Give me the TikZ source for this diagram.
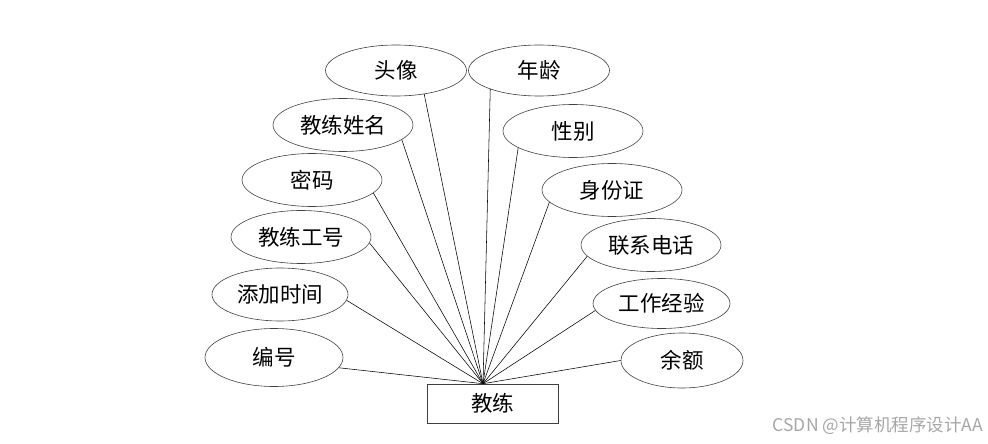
\documentclass[tikz,border=0pt]{standalone}
\usepackage{fontspec}
\newfontfamily\cjk{Noto Sans CJK SC}
\usetikzlibrary{shapes.geometric}
\begin{document}
\begin{tikzpicture}[x=1pt,y=-1pt,
  attr/.style={ellipse, draw=black!75, line width=0.6pt, minimum width=140pt, minimum height=53pt, inner sep=0pt, font=\cjk\fontsize{21.5}{25}\selectfont},
  ent/.style={rectangle, draw=black!75, line width=0.6pt, minimum width=131pt, minimum height=39pt, inner sep=0pt, font=\cjk\fontsize{21.5}{25}\selectfont},
  link/.style={draw=black, line width=0.55pt},
  wmark/.style={text=black!35, font=\cjk\fontsize{17.5}{20}\selectfont, anchor=east, inner sep=0pt}]
\useasboundingbox (0,0) rectangle (988,444);
\node[ent] (ent) at (492.5,403.5) {教练};
\coordinate (hub) at ([xshift=-9.5pt]ent.north);
\node[attr, minimum width=141pt, minimum height=51pt] (touxiang) at (396,70.5) {头像};
\node[attr, minimum width=141pt, minimum height=51pt] (nianling) at (539,70.5) {年龄};
\node[attr] (xingming) at (343,125) {教练姓名};
\node[attr] (xingbie) at (573,131) {性别};
\node[attr] (mima) at (312,180) {密码};
\node[attr] (sfz) at (612,190) {身份证};
\node[attr] (gonghao) at (301,237) {教练工号};
\node[attr] (dianhua) at (651,245) {联系电话};
\node[attr, minimum width=136pt] (shijian) at (280,294.5) {添加时间};
\node[attr, minimum width=137pt, minimum height=50pt] (jingyan) at (661.5,303.5) {工作经验};
\node[attr, minimum width=138pt, minimum height=58pt] (bianhao) at (274,357.5) {编号};
\node[attr, minimum width=122pt, minimum height=55pt] (yue) at (682,360.5) {余额};
\draw[link] (touxiang.-40) -- (hub);
\draw[link] (nianling.-159) -- (hub);
\draw[link] (xingming.-14) -- (hub);
\draw[link] (xingbie.197) -- (hub);
\draw[link] (mima.-12) -- (hub);
\draw[link] (sfz.191.5) -- (hub);
\draw[link] (gonghao.-5) -- (hub);
\draw[link] (dianhua.190) -- (hub);
\draw[link] (shijian.-5) -- (hub);
\draw[link] (jingyan.186) -- (hub);
\draw[link] (bianhao.-9) -- (hub);
\draw[link] (yue.180) -- (hub);
\node[wmark] (wm) at (983,426) {CSDN @计算机程序设计AA};
\end{tikzpicture}
\end{document}
